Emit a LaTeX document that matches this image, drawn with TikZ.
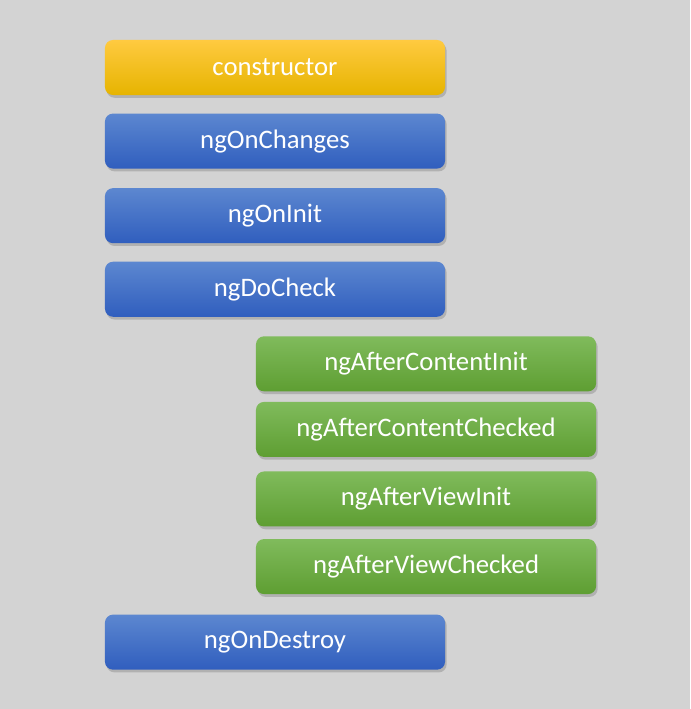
\documentclass[tikz,border=0pt]{standalone}
\usepackage{fontspec}
\setmainfont{Carlito}
\usetikzlibrary{positioning,shadows}
\definecolor{bgray}{RGB}{211,211,211}
\definecolor{ytop}{RGB}{255,202,64}
\definecolor{ymid}{RGB}{255,192,0}
\definecolor{ybot}{RGB}{230,180,0}
\definecolor{btop}{RGB}{92,135,208}
\definecolor{bmid}{RGB}{68,114,196}
\definecolor{bbot}{RGB}{48,94,190}
\definecolor{gtop}{RGB}{128,187,92}
\definecolor{gmid}{RGB}{112,173,71}
\definecolor{gbot}{RGB}{94,158,50}

\begin{document}
\begin{tikzpicture}[x=0.025cm,y=-0.025cm,
  hook/.style={rectangle, rounded corners=0.2cm, minimum width=8.5cm, minimum height=1.375cm,
    text=white, font=\fontsize{19}{22}\selectfont,
    drop shadow={opacity=0.4, shadow xshift=0.04cm, shadow yshift=-0.07cm}},
  yhook/.style={hook, top color=ytop, middle color=ymid, bottom color=ybot},
  bhook/.style={hook, top color=btop, middle color=bmid, bottom color=bbot},
  ghook/.style={hook, top color=gtop, middle color=gmid, bottom color=gbot}]
\fill[bgray] (0,0) rectangle (690,709);
\node [yhook] (ctor) at (275,67.5) {constructor};
\node [bhook, below=0.45cm of ctor] (chg) {ngOnChanges};
\node [bhook, below=0.475cm of chg] (init) {ngOnInit};
\node [bhook, below=0.45cm of init] (dock) {ngDoCheck};
\node [ghook, below=0.475cm of dock, xshift=3.775cm] (aci) {ngAfterContentInit};
\node [ghook, below=0.25cm of aci] (acc) {ngAfterContentChecked};
\node [ghook, below=0.35cm of acc] (avi) {ngAfterViewInit};
\node [ghook, below=0.3cm of avi] (avc) {ngAfterViewChecked};
\node [bhook, below=0.5cm of avc, xshift=-3.775cm] (dest) {ngOnDestroy};
\end{tikzpicture}
\end{document}
